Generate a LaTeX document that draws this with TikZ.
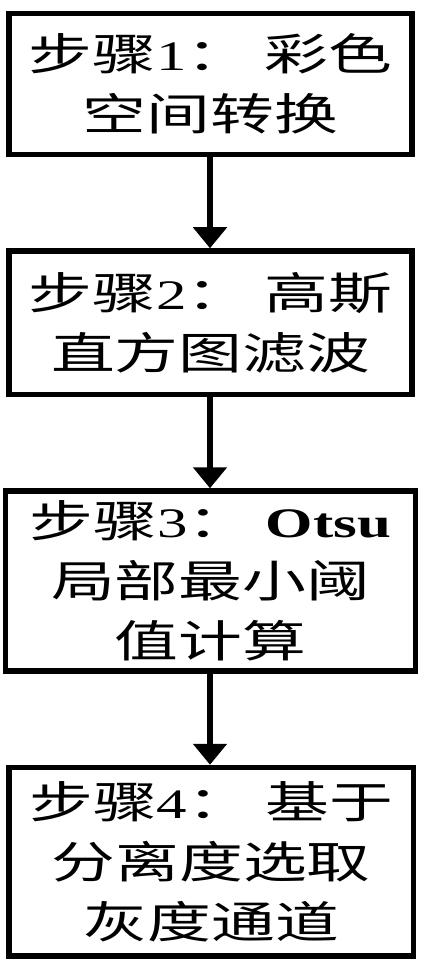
\documentclass[tikz,border=0pt]{standalone}
\usepackage{fontspec}
\usetikzlibrary{arrows.meta}
\newfontfamily\cjk[FakeStretch=1.45]{Noto Sans CJK SC}
\newfontfamily\lat[FakeStretch=1.45]{Liberation Serif}
\newcommand{\ltn}[1]{{\lat\fontsize{42}{60}\selectfont #1}}
\begin{document}
\begin{tikzpicture}[x=1pt,y=1pt,
  stepbox/.style={draw=black,line width=5.5pt,fill=white,align=center,inner sep=0pt,
    font={\cjk\fontsize{44}{60}\selectfont}},
  flowarrow/.style={line width=5.5pt,-{Triangle[width=33pt,length=21pt]}}]
\useasboundingbox[fill=white] (0,0) rectangle (432,-968);
\node[stepbox,minimum width=403pt,minimum height=141pt] (s1) at (210.5,-84)
  {步骤\ltn{1}： 彩色\\空间转换};
\node[stepbox,minimum width=403pt,minimum height=143.5pt] (s2) at (210.5,-322.75)
  {步骤\ltn{2}： 高斯\\直方图滤波};
\node[stepbox,minimum width=410pt,minimum height=180pt] (s3) at (210.5,-581)
  {步骤\ltn{3}： \ltn{\bfseries Otsu}\\局部最小阈\\值计算};
\node[stepbox,minimum width=404.5pt,minimum height=188.5pt] (s4) at (211.25,-861.75)
  {步骤\ltn{4}： 基于\\分离度选取\\灰度通道};
\draw[flowarrow] (s1.south -| 210,0) -- (s2.north -| 210,0);
\draw[flowarrow] (s2.south -| 210,0) -- (s3.north -| 210,0);
\draw[flowarrow] (s3.south -| 210,0) -- (s4.north -| 210,0);
\end{tikzpicture}
\end{document}
